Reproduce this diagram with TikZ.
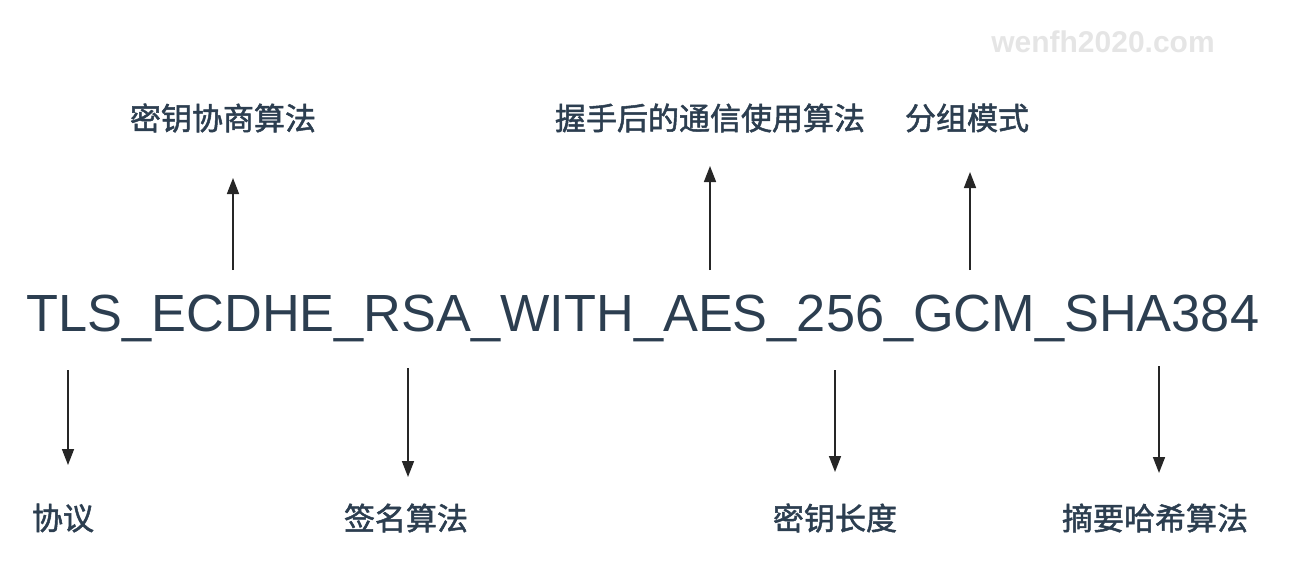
\documentclass[tikz,border=0pt]{standalone}
\usepackage{fontspec}
\setmainfont{Liberation Sans}
\newfontfamily\cjk[FakeBold=1.6]{Noto Sans CJK SC}
\usetikzlibrary{arrows.meta}
\definecolor{ink}{HTML}{2C3E50}
\begin{document}
\begin{tikzpicture}[x=1pt,y=-1pt,
  lab/.style={font=\cjk\fontsize{31}{34}\selectfont,text=ink,inner sep=0},
  arr/.style={draw=black!85,line width=1.6pt,-{Triangle[length=16pt,width=12pt]}},
  wm/.style={text=black!10,inner sep=0}]
\useasboundingbox (0,0) rectangle (1298,568);
\node[text=ink,inner sep=0,font=\fontsize{52.3}{60}\selectfont] (main) at (643,318) {TLS\_ECDHE\_RSA\_WITH\_AES\_256\_GCM\_SHA384};
\node[lab] (k1) at (223,118) {密钥协商算法};
\node[lab] (k2) at (710,118) {握手后的通信使用算法};
\node[lab] (k3) at (967,118) {分组模式};
\node[lab] (b1) at (63,518) {协议};
\node[lab] (b2) at (406,518) {签名算法};
\node[lab] (b3) at (835,518) {密钥长度};
\node[lab] (b4) at (1155,518) {摘要哈希算法};
\coordinate (u1) at (233,270); \coordinate (u2) at (710,270); \coordinate (u3) at (970,270);
\coordinate (d1) at (68,370); \coordinate (d2) at (408,368); \coordinate (d3) at (835,370); \coordinate (d4) at (1159,366);
\draw[arr] (u1) -- (233,178);
\draw[arr] (u2) -- (710,166);
\draw[arr] (u3) -- (970,172);
\draw[arr] (d1) -- (68,465);
\draw[arr] (d2) -- (408,477);
\draw[arr] (d3) -- (835,472);
\draw[arr] (d4) -- (1159,473);
\node[wm,font=\bfseries\fontsize{30}{32}\selectfont] (w1) at (1103,42) {wenfh2020.com};
\end{tikzpicture}
\end{document}
